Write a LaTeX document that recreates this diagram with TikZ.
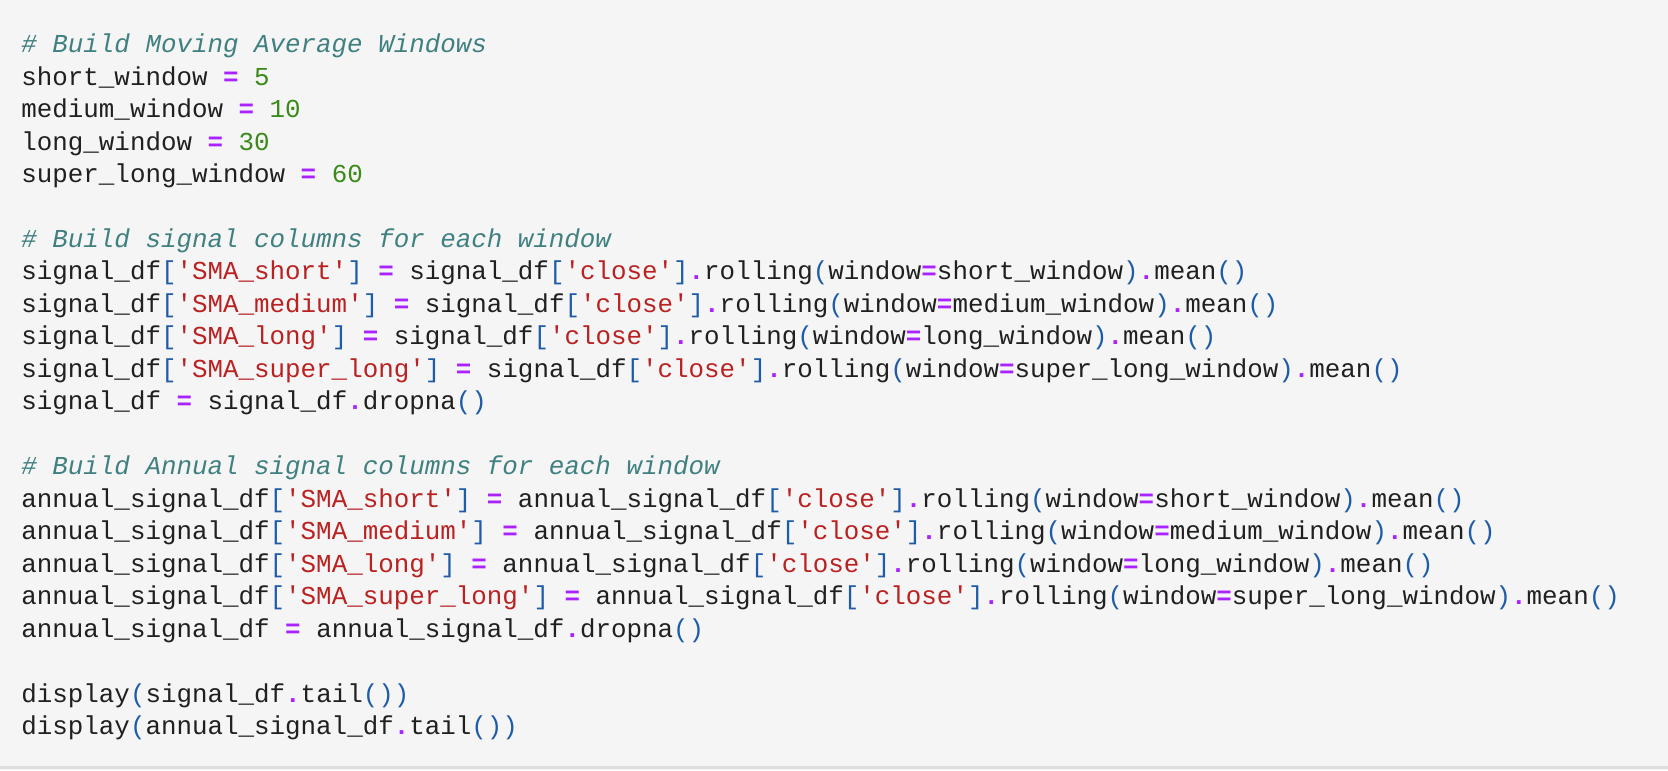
\documentclass[tikz,border=0pt]{standalone}
\usepackage{fontspec}
\newfontfamily\code{Liberation Mono}
\definecolor{bg}{HTML}{F5F5F5}
\definecolor{cmt}{HTML}{408080}
\definecolor{opc}{HTML}{AA22FF}
\definecolor{numc}{HTML}{3A8A1A}
\definecolor{strc}{HTML}{BA2121}
\definecolor{parc}{HTML}{1F5CA8}
\definecolor{txt}{HTML}{202020}
\newcommand\Eq{\textcolor{opc}{\textbf{=}}}
\newcommand\Dt{\textcolor{opc}{\textbf{.}}}
\newcommand\Nm[1]{\textcolor{numc}{#1}}
\newcommand\St[1]{\textcolor{strc}{\char39 #1\char39}}
\newcommand\Pa[1]{\textcolor{parc}{#1}}
\newcommand\Cm[1]{\textcolor{cmt}{\itshape #1}}
\tikzset{codeline/.style={anchor=base west,inner sep=0pt,text=txt,font=\code\fontsize{12.93}{15}\selectfont}}
\begin{document}
\begin{tikzpicture}[x=0.5pt,y=-0.5pt]
\fill[bg] (0,0) rectangle (1668,770);
\useasboundingbox (0,0) rectangle (1668,770);
\draw[line width=1.5pt,color=black!13] (0,767) -- (1668,767);
\def\L#1#2{\node[codeline] (l#1) at (21,{43.6+32.47*#1+9}) {#2};}
\L{0}{\Cm{\# Build Moving Average Windows}}
\L{1}{short\_window \Eq{} \Nm{5}}
\L{2}{medium\_window \Eq{} \Nm{10}}
\L{3}{long\_window \Eq{} \Nm{30}}
\L{4}{super\_long\_window \Eq{} \Nm{60}}
\L{6}{\Cm{\# Build signal columns for each window}}
\L{7}{signal\_df\Pa{[}\St{SMA\_short}\Pa{]} \Eq{} signal\_df\Pa{[}\St{close}\Pa{]}\Dt rolling\Pa{(}window\Eq short\_window\Pa{)}\Dt mean\Pa{()}}
\L{8}{signal\_df\Pa{[}\St{SMA\_medium}\Pa{]} \Eq{} signal\_df\Pa{[}\St{close}\Pa{]}\Dt rolling\Pa{(}window\Eq medium\_window\Pa{)}\Dt mean\Pa{()}}
\L{9}{signal\_df\Pa{[}\St{SMA\_long}\Pa{]} \Eq{} signal\_df\Pa{[}\St{close}\Pa{]}\Dt rolling\Pa{(}window\Eq long\_window\Pa{)}\Dt mean\Pa{()}}
\L{10}{signal\_df\Pa{[}\St{SMA\_super\_long}\Pa{]} \Eq{} signal\_df\Pa{[}\St{close}\Pa{]}\Dt rolling\Pa{(}window\Eq super\_long\_window\Pa{)}\Dt mean\Pa{()}}
\L{11}{signal\_df \Eq{} signal\_df\Dt dropna\Pa{()}}
\L{13}{\Cm{\# Build Annual signal columns for each window}}
\L{14}{annual\_signal\_df\Pa{[}\St{SMA\_short}\Pa{]} \Eq{} annual\_signal\_df\Pa{[}\St{close}\Pa{]}\Dt rolling\Pa{(}window\Eq short\_window\Pa{)}\Dt mean\Pa{()}}
\L{15}{annual\_signal\_df\Pa{[}\St{SMA\_medium}\Pa{]} \Eq{} annual\_signal\_df\Pa{[}\St{close}\Pa{]}\Dt rolling\Pa{(}window\Eq medium\_window\Pa{)}\Dt mean\Pa{()}}
\L{16}{annual\_signal\_df\Pa{[}\St{SMA\_long}\Pa{]} \Eq{} annual\_signal\_df\Pa{[}\St{close}\Pa{]}\Dt rolling\Pa{(}window\Eq long\_window\Pa{)}\Dt mean\Pa{()}}
\L{17}{annual\_signal\_df\Pa{[}\St{SMA\_super\_long}\Pa{]} \Eq{} annual\_signal\_df\Pa{[}\St{close}\Pa{]}\Dt rolling\Pa{(}window\Eq super\_long\_window\Pa{)}\Dt mean\Pa{()}}
\L{18}{annual\_signal\_df \Eq{} annual\_signal\_df\Dt dropna\Pa{()}}
\L{20}{display\Pa{(}signal\_df\Dt tail\Pa{())}}
\L{21}{display\Pa{(}annual\_signal\_df\Dt tail\Pa{())}}
\end{tikzpicture}
\end{document}
